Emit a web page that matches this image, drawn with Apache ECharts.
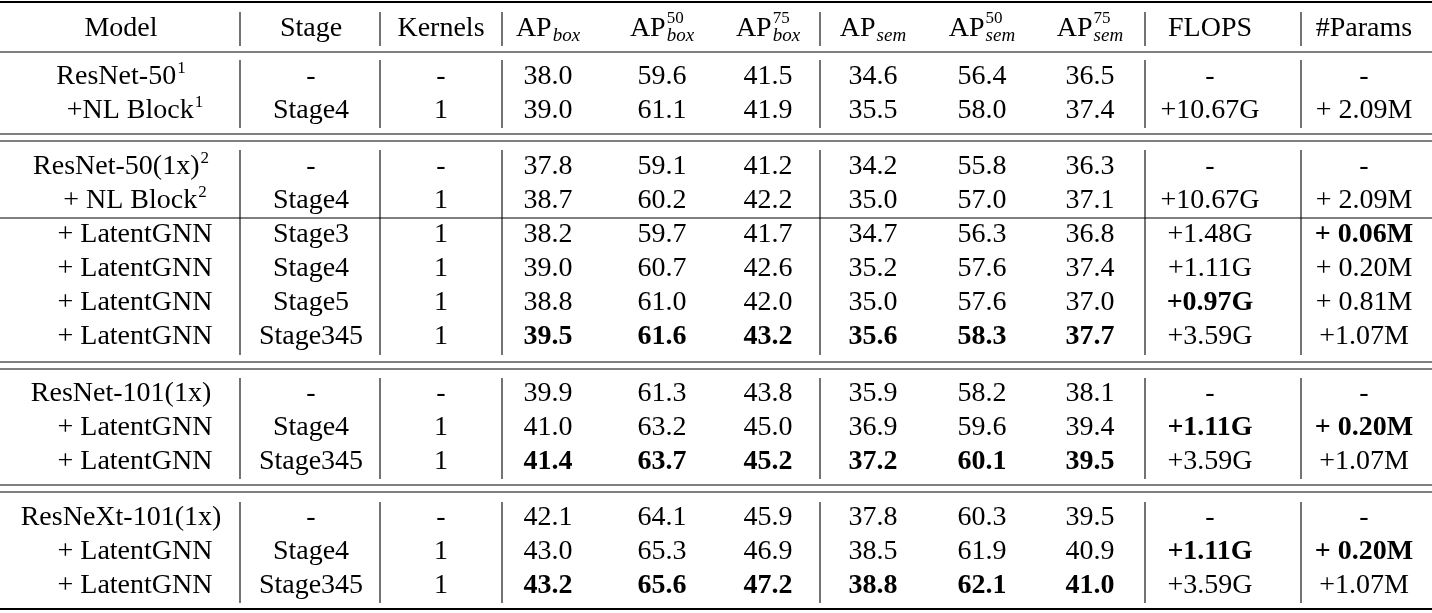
<!DOCTYPE html>
<html><head><meta charset="utf-8">
<script src="https://cdn.jsdelivr.net/npm/echarts@6/dist/echarts.min.js"></script>
<style>html,body{margin:0;padding:0;background:#fff}#c{width:1432px;height:613px}</style>
</head><body><div id="c"></div>
<script>
const columns = ['Model','Stage','Kernels','AP_{box}','AP_{box}^{50}','AP_{box}^{75}','AP_{sem}','AP_{sem}^{50}','AP_{sem}^{75}','FLOPS','#Params'];
const models = ['ResNet-50^{1}','+NL Block^{1}','ResNet-50(1x)^{2}','+ NL Block^{2}','+ LatentGNN','+ LatentGNN','+ LatentGNN','+ LatentGNN','ResNet-101(1x)','+ LatentGNN','+ LatentGNN','ResNeXt-101(1x)','+ LatentGNN','+ LatentGNN'];
const stages = ['-','Stage4','-','Stage4','Stage3','Stage4','Stage5','Stage345','-','Stage4','Stage345','-','Stage4','Stage345'];
const kernels = ['-','1','-','1','1','1','1','1','-','1','1','-','1','1'];
const apBox   = ['38.0','39.0','37.8','38.7','38.2','39.0','38.8','39.5','39.9','41.0','41.4','42.1','43.0','43.2'];
const apBox50 = ['59.6','61.1','59.1','60.2','59.7','60.7','61.0','61.6','61.3','63.2','63.7','64.1','65.3','65.6'];
const apBox75 = ['41.5','41.9','41.2','42.2','41.7','42.6','42.0','43.2','43.8','45.0','45.2','45.9','46.9','47.2'];
const apSem   = ['34.6','35.5','34.2','35.0','34.7','35.2','35.0','35.6','35.9','36.9','37.2','37.8','38.5','38.8'];
const apSem50 = ['56.4','58.0','55.8','57.0','56.3','57.6','57.6','58.3','58.2','59.6','60.1','60.3','61.9','62.1'];
const apSem75 = ['36.5','37.4','36.3','37.1','36.8','37.4','37.0','37.7','38.1','39.4','39.5','39.5','40.9','41.0'];
const flops  = ['-','+10.67G','-','+10.67G','+1.48G','+1.11G','+0.97G','+3.59G','-','+1.11G','+3.59G','-','+1.11G','+3.59G'];
const params = ['-','+ 2.09M','-','+ 2.09M','+ 0.06M','+ 0.20M','+ 0.81M','+1.07M','-','+ 0.20M','+1.07M','-','+ 0.20M','+1.07M'];
const boldCells = ['4,10','6,9','7,3','7,4','7,5','7,6','7,7','7,8','9,9','9,10','10,3','10,4','10,5','10,6','10,7','10,8','12,9','12,10','13,3','13,4','13,5','13,6','13,7','13,8'];
const sections = [2,6,3,3];

// layout
const colX = [121,311,441,548,662,768,873,982,1090,1210,1364];
const sepX = [240,380,502,820,1145,1301];
const secStartY = [77,167,394,518], rowStep = 34, headerY = 29;
const vSpans = [[12,46],[60,128],[150,355],[378,479],[502,603]];
const hRules = [[2,2.2],[52,1.2],[134,1.1],[141,1.1],[218,1.1],[362,1.1],[369,1.1],[485,1.1],[492,1.1],[609,2.2]];
const FONT = '"Liberation Serif", "Times New Roman", serif';
const FS = 28, SUPFS = 17, SUBFS = 19;

const cols = [models,stages,kernels,apBox,apBox50,apBox75,apSem,apSem50,apSem75,flops,params];
const rowY = [];
sections.forEach((n,s)=>{for(let i=0;i<n;i++) rowY.push(secStartY[s]+i*rowStep);});

const ctx = document.createElement('canvas').getContext('2d');
function measure(t, size, bold, italic){ctx.font=(italic?'italic ':'')+(bold?'bold ':'')+size+'px '+FONT;return ctx.measureText(t).width;}
function parse(s){
  const m = s.match(/^([^_^]*)(?:_\{([^}]*)\})?(?:\^\{([^}]*)\})?$/);
  return {main:m[1], sub:m[2]||'', sup:m[3]||''};
}
function cellGroup(str, cx, cy, bold){
  const p = parse(str);
  const wm = measure(p.main, FS, bold, false);
  const ws = p.sub ? measure(p.sub, SUBFS, false, true) : 0;
  const wp = p.sup ? measure(p.sup, SUPFS, false, false) : 0;
  const total = wm + Math.max(ws, wp) + (p.sub||p.sup?1:0);
  let x0 = cx - total/2;
  const ch = [{type:'text', style:{x:x0, y:cy, text:p.main, font:(bold?'bold ':'')+FS+'px '+FONT, fill:'#000', verticalAlign:'middle', align:'left'}}];
  if (p.sub) ch.push({type:'text', style:{x:x0+wm+1, y:cy+7, text:p.sub, font:'italic '+SUBFS+'px '+FONT, fill:'#000', verticalAlign:'middle', align:'left'}});
  if (p.sup) ch.push({type:'text', style:{x:x0+wm+1, y:cy-(p.sub?10:8), text:p.sup, font:SUPFS+'px '+FONT, fill:'#000', verticalAlign:'middle', align:'left'}});
  return {type:'group', children:ch};
}

const cellData = [];
columns.forEach((h,c)=>cellData.push([c,-1]));
for (let r=0;r<rowY.length;r++) for (let c=0;c<cols.length;c++) cellData.push([c,r]);

const chart = echarts.init(document.getElementById('c'));
chart.setOption({
  animation:false,
  grid:{left:0,right:0,top:0,bottom:0},
  xAxis:{type:'value',min:0,max:1432,show:false},
  yAxis:{type:'value',min:0,max:613,inverse:true,show:false},
  series:[
    {type:'custom', data:cellData, renderItem:(params, api)=>{
      const c = api.value(0), r = api.value(1);
      let str, y, bold=false, cx = colX[c];
      if (r < 0){ str = columns[c]; y = headerY; }
      else { str = cols[c][r]; y = rowY[r]; bold = boldCells.includes(r+','+c);
        if (c===0 && str.startsWith('+')) cx = 135; }
      const pt = api.coord([cx, y]);
      return cellGroup(str, pt[0], pt[1], bold);
    }},
    {type:'custom', data:hRules, renderItem:(params, api)=>{
      const a = api.coord([0, api.value(0)]), b = api.coord([1432, api.value(0)]);
      return {type:'line', shape:{x1:a[0],y1:a[1],x2:b[0],y2:b[1]}, style:{stroke:'#000', lineWidth:api.value(1)}};
    }},
    {type:'custom', data:sepX.flatMap(x=>vSpans.map(s=>[x,s[0],s[1]])), renderItem:(params, api)=>{
      const a = api.coord([api.value(0), api.value(1)]), b = api.coord([api.value(0), api.value(2)]);
      return {type:'line', shape:{x1:a[0],y1:a[1],x2:b[0],y2:b[1]}, style:{stroke:'#000', lineWidth:1.1}};
    }}
  ]
});
</script></body></html>
